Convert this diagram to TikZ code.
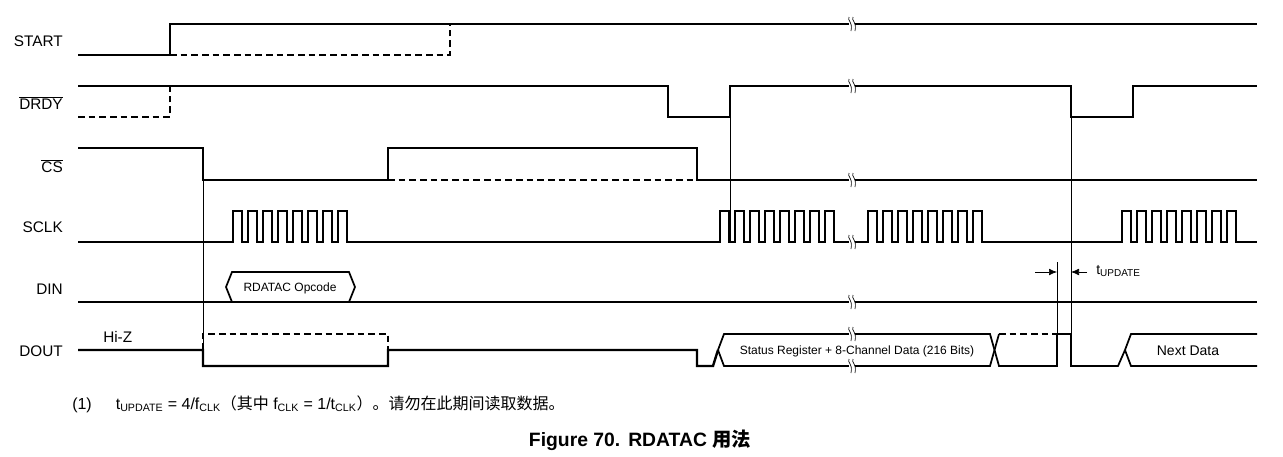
\documentclass[tikz,border=0pt]{standalone}
\usepackage{fontspec}
\setmainfont{Liberation Sans}
\newfontfamily\cjk{Noto Sans CJK SC}
\usetikzlibrary{arrows.meta}
\begin{document}
\begin{tikzpicture}[x=0.75pt,y=-0.75pt,
  sig/.style={line width=1.8pt,line join=miter},
  dsig/.style={line width=1.8pt,dash pattern=on 5pt off 3pt},
  thin/.style={line width=0.5pt},
  lab/.style={anchor=east,font=\fontsize{11.5}{13}\selectfont,inner sep=0pt},
  box/.style={font=\fontsize{9}{11}\selectfont,inner sep=0pt}]
\useasboundingbox (0,0) rectangle (1283,457);
\newcommand\brkmark[2]{%
  \fill[white] (#1-3,#2-7) rectangle (#1+3,#2+7);
  \draw[thin] (#1-3,#2-7) .. controls (#1-5,#2-3) and (#1+1,#2-3) .. (#1-1,#2+7);
  \draw[thin] (#1+1,#2-7) .. controls (#1-1,#2-3) and (#1+5,#2-3) .. (#1+3,#2+7);}
% labels
\node[lab] (lstart) at (63,41) {START};
\node[lab] (ldrdy) at (63,103) {$\overline{\mbox{DRDY}}$};
\node[lab] (lcs) at (63,166) {$\overline{\mbox{CS}}$};
\node[lab] (lsclk) at (63,227) {SCLK};
\node[lab] (ldin) at (63,289) {DIN};
\node[lab] (ldout) at (63,351) {DOUT};
\node[lab,anchor=west] (hiz) at (103,337) {Hi-Z};
% START
\draw[sig] (78,55) -- (170,55) -- (170,24) -- (1257,24);
\draw[dsig] (170,55) -- (450,55) -- (450,24);
% DRDY
\draw[sig] (78,86) -- (668,86) -- (668,117) -- (730,117) -- (730,86) -- (1071,86) -- (1071,117) -- (1133,117) -- (1133,86) -- (1257,86);
\draw[dsig] (78,117) -- (170,117) -- (170,86);
% CS
\draw[sig] (78,148) -- (203,148) -- (203,180) -- (388,180) -- (388,148) -- (697,148) -- (697,180) -- (1257,180);
\draw[dsig] (388,180) -- (697,180);
% SCLK
\draw[sig] (78,242) -- (233,242) foreach \i in {1,...,8}{ -- ++(0,-31) -- ++(9,0) -- ++(0,31) -- ++(6,0)} -- (720,242)
  foreach \i in {1,...,8}{ -- ++(0,-31) -- ++(9,0) -- ++(0,31) -- ++(6,0)} -- (868,242)
  foreach \i in {1,...,8}{ -- ++(0,-31) -- ++(9,0) -- ++(0,31) -- ++(6,0)} -- (1122,242)
  foreach \i in {1,...,8}{ -- ++(0,-31) -- ++(9,0) -- ++(0,31) -- ++(6,0)} -- (1257,242);
% DIN
\draw[line width=1.3pt] (78,302) -- (1257,302);
\draw[line width=1.3pt,fill=white] (226,287) -- (232,272) -- (349,272) -- (355,287) -- (349,302) -- (232,302) -- cycle;
\node[box] (op) at (290,288) {RDATAC Opcode};
% DOUT
\draw[sig] (78,350) -- (203,350) -- (203,366) -- (388,366) -- (388,350) -- (697,350) -- (697,366) -- (713,366) -- (718,350);
\draw[dsig] (203,350) -- (203,334) -- (388,334) -- (388,350);
\draw[line width=1.3pt] (718,350) -- (724,334) -- (990,334) -- (999,366) -- (1057,366) -- (1057,334) -- (1071,334) -- (1071,366) -- (1118,366) -- (1125,350) -- (1131,334) -- (1257,334);
\draw[line width=1.3pt] (718,350) -- (724,366) -- (990,366) -- (999,334);
\draw[line width=1.3pt] (1125,350) -- (1131,366) -- (1257,366);
\draw[line width=1.3pt,dash pattern=on 5pt off 3pt] (999,334) -- (1057,334);
\node[box] (st) at (857,351) {Status Register + 8-Channel Data (216 Bits)};
\node[box,font=\fontsize{10.5}{12}\selectfont] (nd) at (1188,351) {Next Data};
% break marks
\foreach \y in {24,86,180,242,302,334,366} {\brkmark{852}{\y}}
% thin timing lines
\draw[thin] (203,180) -- (203,366);
\draw[thin] (730,117) -- (730,242);
\draw[thin] (1071,117) -- (1071,366);
\draw[thin] (1057,262) -- (1057,366);
\coordinate (a1) at (1035,272); \coordinate (a1e) at (1057,272);
\coordinate (a2) at (1087,272); \coordinate (a2e) at (1071,272);
\draw[thin,-{Latex[length=6pt,width=5pt]}] (a1) -- (a1e);
\draw[thin,-{Latex[length=6pt,width=5pt]}] (a2) -- (a2e);
\node[box,anchor=west,font=\fontsize{10.5}{12}\selectfont] (tu) at (1096,271) {t\textsubscript{\fontsize{7.5}{8}\selectfont UPDATE}};
% footnote
\node[anchor=west,inner sep=0pt,font=\fontsize{12}{14}\selectfont] (fn) at (72,404) {(1)\hspace{18pt}t\textsubscript{UPDATE} = 4/f\textsubscript{CLK}{\cjk（其中} f\textsubscript{CLK} = 1/t\textsubscript{CLK}{\cjk）。请勿在此期间读取数据。}};
\node[inner sep=0pt,font=\bfseries\fontsize{14.5}{16}\selectfont] (cap) at (640,440) {Figure 70.\hspace{6pt}RDATAC {\cjk\bfseries 用法}};
\end{tikzpicture}
\end{document}
